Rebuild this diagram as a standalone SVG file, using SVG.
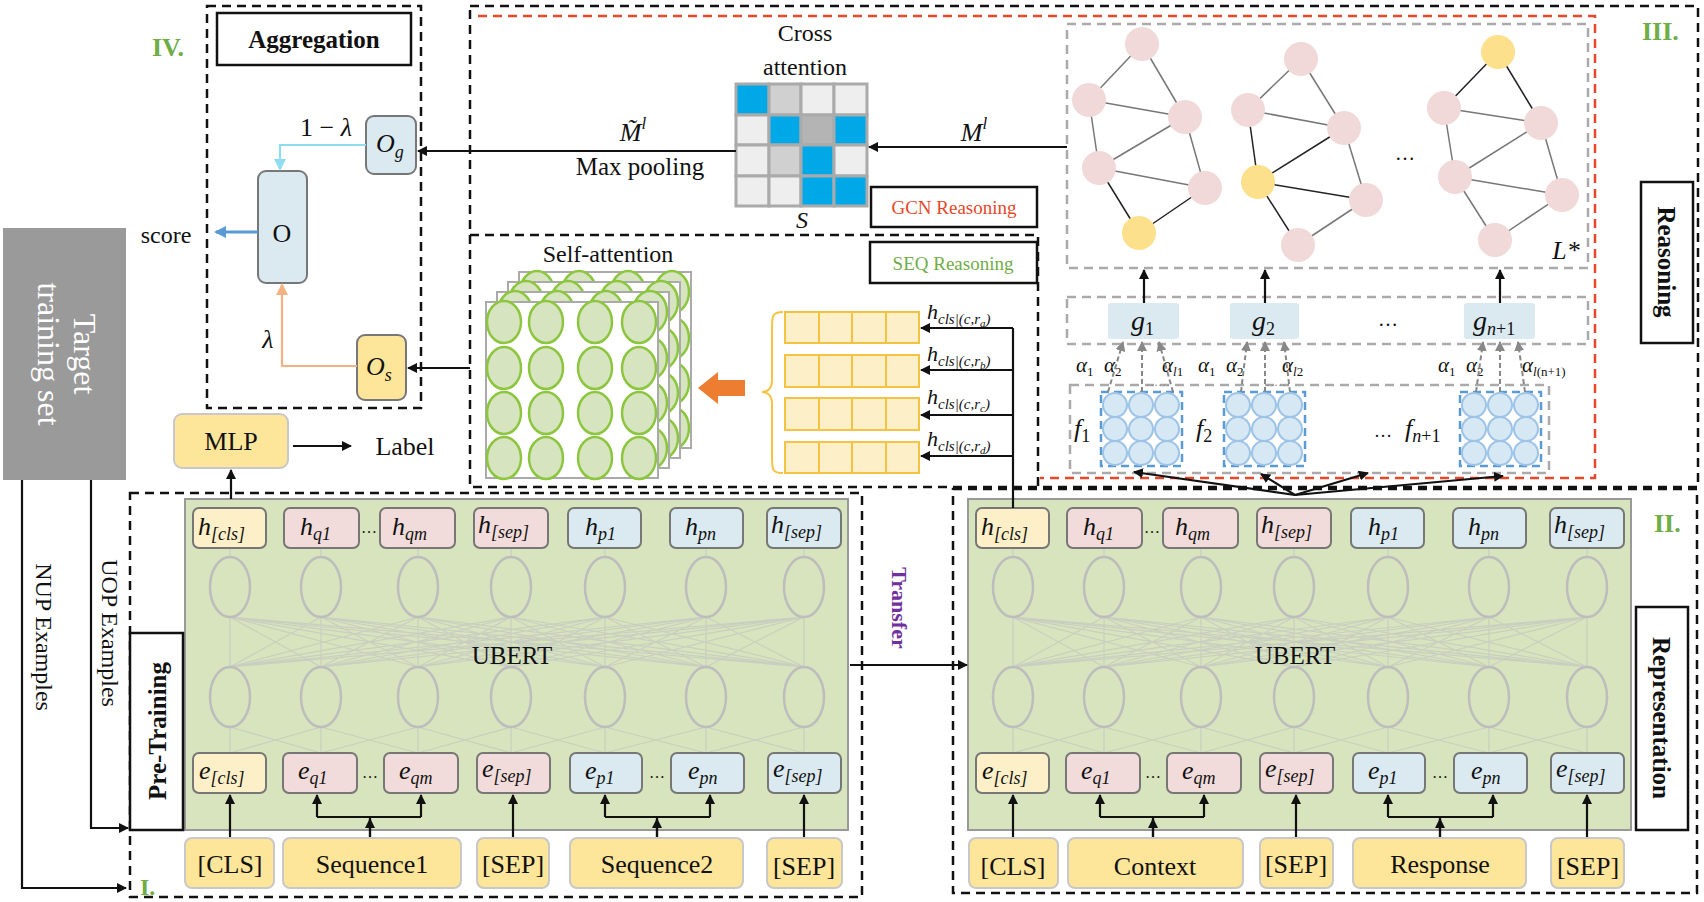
<svg xmlns="http://www.w3.org/2000/svg" xmlns:xlink="http://www.w3.org/1999/xlink" width="1704" height="902" viewBox="0 0 1704 902">
<style>
text{font-family:"Liberation Serif",serif;fill:#111}
.it{font-style:italic}
.dash{fill:none;stroke:#111;stroke-width:2.5;stroke-dasharray:9 6}
.gdash{fill:none;stroke:#aaa;stroke-width:2.5;stroke-dasharray:9 6}
.rdash{fill:none;stroke:#e8472a;stroke-width:2.5;stroke-dasharray:9 6}
.bdash{fill:none;stroke:#5b9bd5;stroke-width:2.5;stroke-dasharray:8 5}
.tok{stroke:#777;stroke-width:2}
.y1{fill:#fdf0c8}.p{fill:#f2dcdb}.b{fill:#dbeaf1}
.inp{fill:#fde59a;stroke:#c8c8c8;stroke-width:2}
.neu{fill:none;stroke:#bdbdbd;stroke-width:2.5}
.wire{stroke:#c9cfc0;stroke-width:1.2;fill:none}
.arr{stroke:#111;stroke-width:2.2;fill:none;marker-end:url(#ah)}
.node{fill:#f2d9d9}
.ynode{fill:#fde08c}
.edge{stroke:#777;stroke-width:1.5}
.sc{fill:#d6e4bf;stroke:#8cc63f;stroke-width:2.5}
.fc{fill:#d6e8f4;stroke:#9dc3e6;stroke-width:2}
.lbl{font-size:26px}
.sub{font-size:18px}
</style>
<defs>
<marker id="ah" markerWidth="10" markerHeight="10" refX="9" refY="5" orient="auto" markerUnits="userSpaceOnUse" viewBox="0 0 10 10"><path d="M0,0 L10,5 L0,10 z" fill="#111"/></marker>
<marker id="ahg" markerWidth="10" markerHeight="10" refX="9" refY="5" orient="auto" markerUnits="userSpaceOnUse" viewBox="0 0 10 10"><path d="M0,0 L10,5 L0,10 z" fill="#888"/></marker>
<marker id="ahb" markerWidth="12" markerHeight="12" refX="10" refY="6" orient="auto" markerUnits="userSpaceOnUse" viewBox="0 0 12 12"><path d="M0,0 L12,6 L0,12 z" fill="#5b9bd5"/></marker>
<marker id="ahc" markerWidth="12" markerHeight="12" refX="10" refY="6" orient="auto" markerUnits="userSpaceOnUse" viewBox="0 0 12 12"><path d="M0,0 L12,6 L0,12 z" fill="#8fdcf0"/></marker>
<marker id="aho" markerWidth="12" markerHeight="12" refX="10" refY="6" orient="auto" markerUnits="userSpaceOnUse" viewBox="0 0 12 12"><path d="M0,0 L12,6 L0,12 z" fill="#f4b183"/></marker>
<g id="ubert">
<rect x="185" y="499" width="663" height="331" fill="#d7e4bd" stroke="#999" stroke-width="2"/>
<path class="wire" d="M230 617L230 667M230 617L321 667M230 617L418 667M230 617L511 667M230 617L605 667M230 617L706 667M230 617L804 667M321 617L230 667M321 617L321 667M321 617L418 667M321 617L511 667M321 617L605 667M321 617L706 667M321 617L804 667M418 617L230 667M418 617L321 667M418 617L418 667M418 617L511 667M418 617L605 667M418 617L706 667M418 617L804 667M511 617L230 667M511 617L321 667M511 617L418 667M511 617L511 667M511 617L605 667M511 617L706 667M511 617L804 667M605 617L230 667M605 617L321 667M605 617L418 667M605 617L511 667M605 617L605 667M605 617L706 667M605 617L804 667M706 617L230 667M706 617L321 667M706 617L418 667M706 617L511 667M706 617L605 667M706 617L706 667M706 617L804 667M804 617L230 667M804 617L321 667M804 617L418 667M804 617L511 667M804 617L605 667M804 617L706 667M804 617L804 667M230 548V557M321 548V557M418 548V557M511 548V557M605 548V557M706 548V557M804 548V557M230 727V753M321 727V753M418 727V753M511 727V753M605 727V753M706 727V753M804 727V753M230 727L321 753M321 727L230 753M321 727L418 753M418 727L321 753M418 727L511 753M511 727L418 753M511 727L605 753M605 727L511 753M605 727L706 753M706 727L605 753M706 727L804 753M804 727L706 753"/>
<g class="neu">
<ellipse cx="230" cy="587" rx="20" ry="30"/><ellipse cx="321" cy="587" rx="20" ry="30"/><ellipse cx="418" cy="587" rx="20" ry="30"/><ellipse cx="511" cy="587" rx="20" ry="30"/><ellipse cx="605" cy="587" rx="20" ry="30"/><ellipse cx="706" cy="587" rx="20" ry="30"/><ellipse cx="804" cy="587" rx="20" ry="30"/>
<ellipse cx="230" cy="697" rx="20" ry="30"/><ellipse cx="321" cy="697" rx="20" ry="30"/><ellipse cx="418" cy="697" rx="20" ry="30"/><ellipse cx="511" cy="697" rx="20" ry="30"/><ellipse cx="605" cy="697" rx="20" ry="30"/><ellipse cx="706" cy="697" rx="20" ry="30"/><ellipse cx="804" cy="697" rx="20" ry="30"/>
</g>
<text x="512" y="664" font-size="25" text-anchor="middle">UBERT</text>
<rect class="tok y1" x="193" y="508" width="73" height="40" rx="6"/>
<rect class="tok p" x="284" y="508" width="75" height="40" rx="6"/>
<rect class="tok p" x="380" y="508" width="75" height="40" rx="6"/>
<rect class="tok p" x="474" y="508" width="74" height="40" rx="6"/>
<rect class="tok b" x="568" y="508" width="73" height="40" rx="6"/>
<rect class="tok b" x="670" y="508" width="73" height="40" rx="6"/>
<rect class="tok b" x="767" y="508" width="74" height="40" rx="6"/>
<g class="lbl it">
<text x="198" y="535">h<tspan class="sub" dy="5">[cls]</tspan></text>
<text x="300" y="535">h<tspan class="sub" dy="5">q1</tspan></text>
<text x="392" y="535">h<tspan class="sub" dy="5">qm</tspan></text>
<text x="478" y="533">h<tspan class="sub" dy="5">[sep]</tspan></text>
<text x="585" y="535">h<tspan class="sub" dy="5">p1</tspan></text>
<text x="685" y="535">h<tspan class="sub" dy="5">pn</tspan></text>
<text x="771" y="533">h<tspan class="sub" dy="5">[sep]</tspan></text>
</g>
<text x="369" y="533" font-size="16" text-anchor="middle">…</text>
<rect class="tok y1" x="193" y="753" width="73" height="40" rx="6"/>
<rect class="tok p" x="283" y="753" width="74" height="40" rx="6"/>
<rect class="tok p" x="384" y="753" width="74" height="40" rx="6"/>
<rect class="tok p" x="477" y="753" width="73" height="40" rx="6"/>
<rect class="tok b" x="570" y="753" width="72" height="40" rx="6"/>
<rect class="tok b" x="671" y="753" width="73" height="40" rx="6"/>
<rect class="tok b" x="768" y="753" width="73" height="40" rx="6"/>
<g class="lbl it">
<text x="199" y="779">e<tspan class="sub" dy="5">[cls]</tspan></text>
<text x="298" y="779">e<tspan class="sub" dy="5">q1</tspan></text>
<text x="399" y="779">e<tspan class="sub" dy="5">qm</tspan></text>
<text x="482" y="777">e<tspan class="sub" dy="5">[sep]</tspan></text>
<text x="585" y="779">e<tspan class="sub" dy="5">p1</tspan></text>
<text x="688" y="779">e<tspan class="sub" dy="5">pn</tspan></text>
<text x="773" y="777">e<tspan class="sub" dy="5">[sep]</tspan></text>
</g>
<text x="370" y="778" font-size="16" text-anchor="middle">…</text>
<text x="657" y="778" font-size="16" text-anchor="middle">…</text>
<path class="arr" d="M230 838V795"/>
<path class="arr" d="M513 838V795"/>
<path class="arr" d="M804 838V795"/>
<path stroke="#111" stroke-width="2.2" fill="none" d="M370 838V817M317 817H421M657 838V817M605 817H710"/>
<path class="arr" d="M370 840V819"/>
<path class="arr" d="M657 840V819"/>
<path class="arr" d="M317 817V795"/><path class="arr" d="M421 817V795"/>
<path class="arr" d="M605 817V795"/><path class="arr" d="M710 817V795"/>
</g>
<g id="sgrid">
<rect x="486" y="302" width="172" height="176" fill="#fff" stroke="#aaa" stroke-width="2"/>
<g class="sc">
<ellipse cx="504" cy="322" rx="17" ry="21"/><ellipse cx="546" cy="322" rx="17" ry="21"/><ellipse cx="595" cy="322" rx="17" ry="21"/><ellipse cx="639" cy="322" rx="17" ry="21"/>
<ellipse cx="504" cy="368" rx="17" ry="21"/><ellipse cx="546" cy="368" rx="17" ry="21"/><ellipse cx="595" cy="368" rx="17" ry="21"/><ellipse cx="639" cy="368" rx="17" ry="21"/>
<ellipse cx="504" cy="413" rx="17" ry="21"/><ellipse cx="546" cy="413" rx="17" ry="21"/><ellipse cx="595" cy="413" rx="17" ry="21"/><ellipse cx="639" cy="413" rx="17" ry="21"/>
<ellipse cx="504" cy="458" rx="17" ry="21"/><ellipse cx="546" cy="458" rx="17" ry="21"/><ellipse cx="595" cy="458" rx="17" ry="21"/><ellipse cx="639" cy="458" rx="17" ry="21"/>
</g>
</g>
<g id="fgrid">
<rect class="bdash" x="1101" y="392" width="81" height="74" fill="none"/>
<g class="fc">
<circle cx="1115" cy="405" r="12"/><circle cx="1141" cy="405" r="12"/><circle cx="1167" cy="405" r="12"/>
<circle cx="1115" cy="429" r="12"/><circle cx="1141" cy="429" r="12"/><circle cx="1167" cy="429" r="12"/>
<circle cx="1115" cy="453" r="12"/><circle cx="1141" cy="453" r="12"/><circle cx="1167" cy="453" r="12"/>
</g>
</g>
</defs>
<rect width="1704" height="902" fill="#fff"/>

<g id="frames">
<rect class="dash" x="207" y="6" width="214" height="402"/>
<path class="dash" d="M470 6H1698V487H470V6M470 235H1038V487"/>
<path class="rdash" d="M478 16H1595V478H1040"/>
<rect class="dash" x="130" y="493" width="732" height="404"/>
<rect class="dash" x="953" y="489" width="744" height="404"/>
<rect class="gdash" x="1067" y="24" width="521" height="244"/>
<rect class="gdash" x="1067" y="297" width="521" height="47"/>
<rect class="gdash" x="1070" y="385" width="479" height="88"/>
</g>

<g id="labels">
<text x="152" y="56" font-size="26" font-weight="bold" style="fill:#70ad47">IV.</text>
<text x="1642" y="40" font-size="26" font-weight="bold" style="fill:#70ad47">III.</text>
<text x="1654" y="532" font-size="26" font-weight="bold" style="fill:#70ad47">II.</text>
<text x="140" y="895" font-size="24" font-weight="bold" style="fill:#70ad47">I.</text>
</g>

<g id="target">
<rect x="3" y="228" width="123" height="252" fill="#9a9a9a"/>
<text transform="translate(74,354) rotate(90)" font-size="32" text-anchor="middle" style="fill:#fff">Target</text>
<text transform="translate(38,354) rotate(90)" font-size="32" text-anchor="middle" style="fill:#fff">training set</text>
</g>
<text transform="translate(36,637) rotate(90)" font-size="24" text-anchor="middle">NUP Examples</text>
<text transform="translate(102,633) rotate(90)" font-size="24" text-anchor="middle">UOP Examples</text>

<g id="aggregation">
<rect x="217" y="13" width="194" height="52" fill="#fff" stroke="#111" stroke-width="2.5"/>
<text x="314" y="48" font-size="25" font-weight="bold" text-anchor="middle">Aggregation</text>
</g>
<g id="Og"><rect class="tok b" x="366" y="116" width="50" height="58" rx="8"/><text x="376" y="152" font-size="26" class="it">O<tspan font-size="18" dy="6">g</tspan></text></g>
<g id="O"><rect class="tok b" x="258" y="171" width="49" height="112" rx="8"/><text x="282" y="242" font-size="26" text-anchor="middle">O</text></g>
<g id="Os"><rect class="tok" x="357" y="335" width="49" height="65" rx="8" fill="#fde59a"/><text x="366" y="375" font-size="26" class="it">O<tspan font-size="18" dy="6">s</tspan></text></g>
<g id="MLP"><rect class="inp" x="174" y="414" width="114" height="54" rx="8" stroke="#aaa"/><text x="231" y="450" font-size="26" text-anchor="middle">MLP</text></g>
<text x="326" y="136" font-size="26" text-anchor="middle">1 − <tspan class="it">λ</tspan></text>
<text x="268" y="348" font-size="26" class="it" text-anchor="middle">λ</text>
<text x="166" y="243" font-size="24" text-anchor="middle">score</text>
<text x="405" y="455" font-size="26" text-anchor="middle">Label</text>

<g id="cross">
<text x="805" y="41" font-size="24" text-anchor="middle">Cross</text>
<text x="805" y="75" font-size="24" text-anchor="middle">attention</text>
<rect x="736" y="84" width="131" height="122" fill="#aaa"/>
<g stroke="#aaa" stroke-width="3">
<rect x="736" y="84" width="33" height="31" fill="#00a8e8"/><rect x="769" y="84" width="32" height="31" fill="#d0d0d0"/><rect x="801" y="84" width="33" height="31" fill="#eeeeee"/><rect x="834" y="84" width="33" height="31" fill="#eeeeee"/>
<rect x="736" y="115" width="33" height="30" fill="#eeeeee"/><rect x="769" y="115" width="32" height="30" fill="#00a8e8"/><rect x="801" y="115" width="33" height="30" fill="#b4b4b4"/><rect x="834" y="115" width="33" height="30" fill="#00a8e8"/>
<rect x="736" y="145" width="33" height="31" fill="#eeeeee"/><rect x="769" y="145" width="32" height="31" fill="#d0d0d0"/><rect x="801" y="145" width="33" height="31" fill="#00a8e8"/><rect x="834" y="145" width="33" height="31" fill="#eeeeee"/>
<rect x="736" y="176" width="33" height="30" fill="#eeeeee"/><rect x="769" y="176" width="32" height="30" fill="#eeeeee"/><rect x="801" y="176" width="33" height="30" fill="#00a8e8"/><rect x="834" y="176" width="33" height="30" fill="#00a8e8"/>
</g>
<text x="802" y="228" font-size="24" class="it" text-anchor="middle">S</text>
</g>
<text x="633" y="141" font-size="26" class="it" text-anchor="middle">M̃<tspan font-size="17" dy="-12">l</tspan></text>
<text x="640" y="175" font-size="25" text-anchor="middle">Max pooling</text>
<text x="974" y="141" font-size="26" class="it" text-anchor="middle">M<tspan font-size="17" dy="-12">l</tspan></text>

<g id="gcnlabel"><rect x="871" y="187" width="166" height="40" fill="#fff" stroke="#111" stroke-width="2.5"/><text x="954" y="214" font-size="19" text-anchor="middle" style="fill:#e8472a">GCN Reasoning</text></g>
<g id="seqlabel"><rect x="870" y="242" width="167" height="41" fill="#fff" stroke="#111" stroke-width="2.5"/><text x="953" y="270" font-size="19" text-anchor="middle" style="fill:#70ad47">SEQ Reasoning</text></g>

<g id="selfatt">
<text x="608" y="262" font-size="24" text-anchor="middle">Self-attention</text>
<use xlink:href="#sgrid" transform="translate(33,-30)"/>
<use xlink:href="#sgrid" transform="translate(22,-20)"/>
<use xlink:href="#sgrid" transform="translate(11,-10)"/>
<use xlink:href="#sgrid"/>
<path d="M745 380H718V372L698 388L718 404V396H745Z" fill="#ed7d31"/>
</g>
<g id="seqrows" stroke="#f5c242" stroke-width="2" fill="#fdf0c8">
<rect x="785" y="312" width="134" height="31"/><rect x="785" y="355" width="134" height="32"/><rect x="785" y="398" width="134" height="32"/><rect x="785" y="442" width="134" height="31"/>
<path d="M819 312V343M852 312V343M886 312V343M819 355V387M852 355V387M886 355V387M819 398V430M852 398V430M886 398V430M819 442V473M852 442V473M886 442V473" fill="none"/>
<path d="M783 312C772 312 772 316 772 330V380C772 388 768 392 762 392C768 392 772 396 772 404V455C772 470 772 473 783 473" fill="none" stroke="#f5c242"/>
</g>
<g font-size="22" class="it">
<text x="927" y="319">h<tspan font-size="15" dy="5">cls|(c,r</tspan><tspan font-size="11" dy="3">a</tspan><tspan font-size="15" dy="-3">)</tspan></text>
<text x="927" y="361">h<tspan font-size="15" dy="5">cls|(c,r</tspan><tspan font-size="11" dy="3">b</tspan><tspan font-size="15" dy="-3">)</tspan></text>
<text x="927" y="404">h<tspan font-size="15" dy="5">cls|(c,r</tspan><tspan font-size="11" dy="3">c</tspan><tspan font-size="15" dy="-3">)</tspan></text>
<text x="927" y="446">h<tspan font-size="15" dy="5">cls|(c,r</tspan><tspan font-size="11" dy="3">d</tspan><tspan font-size="15" dy="-3">)</tspan></text>
</g>

<g id="graph1">
<g class="edge"><line x1="1142" y1="44" x2="1089" y2="100"/><line x1="1142" y1="44" x2="1185" y2="117"/><line x1="1089" y1="100" x2="1185" y2="117"/><line x1="1089" y1="100" x2="1099" y2="168"/><line x1="1185" y1="117" x2="1099" y2="168"/><line x1="1185" y1="117" x2="1205" y2="188"/><line x1="1099" y1="168" x2="1205" y2="188"/><line x1="1099" y1="168" x2="1139" y2="233" stroke="#222"/><line x1="1139" y1="233" x2="1205" y2="188" stroke="#222"/></g>
<ellipse class="node" cx="1142" cy="44" rx="17" ry="17"/><ellipse class="node" cx="1089" cy="100" rx="17" ry="17"/><ellipse class="node" cx="1185" cy="117" rx="17" ry="17"/><ellipse class="node" cx="1099" cy="168" rx="17" ry="17"/><ellipse class="node" cx="1205" cy="188" rx="17" ry="17"/><ellipse class="ynode" cx="1139" cy="233" rx="17" ry="17"/>
</g>
<g id="graph2">
<g class="edge"><line x1="1301" y1="59" x2="1248" y2="110"/><line x1="1301" y1="59" x2="1344" y2="128"/><line x1="1248" y1="110" x2="1344" y2="128"/><line x1="1248" y1="110" x2="1258" y2="182" stroke="#222"/><line x1="1344" y1="128" x2="1258" y2="182" stroke="#222"/><line x1="1258" y1="182" x2="1366" y2="200" stroke="#222"/><line x1="1344" y1="128" x2="1366" y2="200"/><line x1="1258" y1="182" x2="1298" y2="245" stroke="#222"/><line x1="1298" y1="245" x2="1366" y2="200"/></g>
<ellipse class="node" cx="1301" cy="59" rx="17" ry="17"/><ellipse class="node" cx="1248" cy="110" rx="17" ry="17"/><ellipse class="node" cx="1344" cy="128" rx="17" ry="17"/><ellipse class="ynode" cx="1258" cy="182" rx="17" ry="17"/><ellipse class="node" cx="1366" cy="200" rx="17" ry="17"/><ellipse class="node" cx="1298" cy="245" rx="17" ry="17"/>
</g>
<text x="1405" y="160" font-size="20" text-anchor="middle">…</text>
<g id="graph3">
<g class="edge"><line x1="1498" y1="52" x2="1444" y2="108" stroke="#222"/><line x1="1498" y1="52" x2="1541" y2="123" stroke="#222"/><line x1="1444" y1="108" x2="1541" y2="123"/><line x1="1444" y1="108" x2="1455" y2="177"/><line x1="1541" y1="123" x2="1455" y2="177"/><line x1="1541" y1="123" x2="1562" y2="195"/><line x1="1455" y1="177" x2="1562" y2="195"/><line x1="1455" y1="177" x2="1495" y2="240"/><line x1="1495" y1="240" x2="1562" y2="195"/></g>
<ellipse class="ynode" cx="1498" cy="52" rx="17" ry="17"/><ellipse class="node" cx="1444" cy="108" rx="17" ry="17"/><ellipse class="node" cx="1541" cy="123" rx="17" ry="17"/><ellipse class="node" cx="1455" cy="177" rx="17" ry="17"/><ellipse class="node" cx="1562" cy="195" rx="17" ry="17"/><ellipse class="node" cx="1495" cy="240" rx="17" ry="17"/>
</g>
<text x="1566" y="259" font-size="26" class="it" text-anchor="middle">L*</text>

<g id="g1"><rect x="1108" y="303" width="71" height="36" rx="3" fill="#dbeaf1"/><text x="1131" y="330" font-size="28" class="it">g<tspan font-size="18" dy="5" style="font-style:normal">1</tspan></text></g>
<g id="g2"><rect x="1230" y="303" width="69" height="36" rx="3" fill="#dbeaf1"/><text x="1252" y="330" font-size="28" class="it">g<tspan font-size="18" dy="5" style="font-style:normal">2</tspan></text></g>
<g id="gn"><rect x="1464" y="303" width="71" height="36" rx="3" fill="#dbeaf1"/><text x="1473" y="330" font-size="28" class="it">g<tspan font-size="18" dy="5">n</tspan><tspan font-size="18" style="font-style:normal">+1</tspan></text></g>
<text x="1388" y="326" font-size="20" text-anchor="middle">…</text>

<g id="f1"><use xlink:href="#fgrid"/><text x="1074" y="437" font-size="26" class="it">f<tspan font-size="18" dy="5" style="font-style:normal">1</tspan></text></g>
<g id="f2"><use xlink:href="#fgrid" transform="translate(123,0)"/><text x="1196" y="437" font-size="26" class="it">f<tspan font-size="18" dy="5" style="font-style:normal">2</tspan></text></g>
<g id="fn"><use xlink:href="#fgrid" transform="translate(359,0)"/><text x="1405" y="437" font-size="26" class="it">f<tspan font-size="18" dy="5">n</tspan><tspan font-size="18" style="font-style:normal">+1</tspan></text></g>
<text x="1383" y="437" font-size="18" text-anchor="middle">…</text>

<g font-size="21" class="it">
<text x="1076" y="372">α<tspan font-size="13" dy="4" style="font-style:normal">1</tspan></text>
<text x="1104" y="372">α<tspan font-size="13" dy="4" style="font-style:normal">2</tspan></text>
<text x="1162" y="372">α<tspan font-size="13" dy="4">l</tspan><tspan font-size="13" style="font-style:normal">1</tspan></text>
<text x="1198" y="372">α<tspan font-size="13" dy="4" style="font-style:normal">1</tspan></text>
<text x="1226" y="372">α<tspan font-size="13" dy="4" style="font-style:normal">2</tspan></text>
<text x="1282" y="372">α<tspan font-size="13" dy="4">l</tspan><tspan font-size="13" style="font-style:normal">2</tspan></text>
<text x="1438" y="372">α<tspan font-size="13" dy="4" style="font-style:normal">1</tspan></text>
<text x="1466" y="372">α<tspan font-size="13" dy="4" style="font-style:normal">2</tspan></text>
<text x="1522" y="372">α<tspan font-size="13" dy="4">l</tspan><tspan font-size="13" style="font-style:normal">(n+1)</tspan></text>
</g>
<text x="1146" y="386" font-size="12" style="fill:#888">……</text>
<text x="1266" y="386" font-size="12" style="fill:#888">……</text>

<use xlink:href="#ubert"/>
<use xlink:href="#ubert" x="783"/>
<g id="pretrain"><rect x="130" y="633" width="53" height="197" fill="#fff" stroke="#111" stroke-width="2.5"/><text transform="translate(166,731) rotate(-90)" font-size="25" font-weight="bold" text-anchor="middle">Pre-Training</text></g>
<g id="repr"><rect x="1636" y="607" width="52" height="223" fill="#fff" stroke="#111" stroke-width="2.5"/><text transform="translate(1653,718) rotate(90)" font-size="25" font-weight="bold" text-anchor="middle">Representation</text></g>
<g id="reason"><rect x="1641" y="182" width="52" height="161" fill="#fff" stroke="#111" stroke-width="2.5"/><text transform="translate(1658,262) rotate(90)" font-size="25" font-weight="bold" text-anchor="middle">Reasoning</text></g>
<text transform="translate(892,608) rotate(90)" font-size="22" font-weight="bold" text-anchor="middle" style="fill:#7030a0">Transfer</text>

<g id="inputsL">
<rect class="inp" x="185" y="838" width="89" height="50" rx="7"/><text x="230" y="873" font-size="26" text-anchor="middle">[CLS]</text>
<rect class="inp" x="283" y="838" width="178" height="50" rx="7"/><text x="372" y="873" font-size="26" text-anchor="middle">Sequence1</text>
<rect class="inp" x="477" y="838" width="72" height="50" rx="7"/><text x="513" y="873" font-size="26" text-anchor="middle">[SEP]</text>
<rect class="inp" x="570" y="838" width="173" height="50" rx="7"/><text x="657" y="873" font-size="26" text-anchor="middle">Sequence2</text>
<rect class="inp" x="767" y="838" width="75" height="50" rx="7"/><text x="804" y="875" font-size="26" text-anchor="middle">[SEP]</text>
</g>
<g id="inputsR">
<rect class="inp" x="969" y="838" width="89" height="50" rx="7"/><text x="1013" y="875" font-size="26" text-anchor="middle">[CLS]</text>
<rect class="inp" x="1068" y="838" width="175" height="50" rx="7"/><text x="1155" y="875" font-size="26" text-anchor="middle">Context</text>
<rect class="inp" x="1260" y="838" width="73" height="50" rx="7"/><text x="1296" y="873" font-size="26" text-anchor="middle">[SEP]</text>
<rect class="inp" x="1353" y="838" width="173" height="50" rx="7"/><text x="1440" y="873" font-size="26" text-anchor="middle">Response</text>
<rect class="inp" x="1551" y="838" width="73" height="50" rx="7"/><text x="1588" y="875" font-size="26" text-anchor="middle">[SEP]</text>
</g>

<g id="connectors">
<path class="arr" d="M736 151H418"/>
<path class="arr" d="M1067 147H869"/>
<path class="arr" d="M470 368H408"/>
<path d="M366 145H280V169" fill="none" stroke="#8fdcf0" stroke-width="2.2" marker-end="url(#ahc)"/>
<path d="M357 366H282V285" fill="none" stroke="#f4b183" stroke-width="2.2" marker-end="url(#aho)"/>
<path d="M258 232H216" fill="none" stroke="#5b9bd5" stroke-width="3" marker-end="url(#ahb)"/>
<path class="arr" d="M293 446H351"/>
<path class="arr" d="M231 499V470"/>
<path d="M22 480V888H126" fill="none" stroke="#111" stroke-width="2.2" marker-end="url(#ah)"/>
<path d="M91 480V828H128" fill="none" stroke="#111" stroke-width="2.2" marker-end="url(#ah)"/>
<path class="arr" d="M850 665H967"/>
<path stroke="#111" stroke-width="2.2" fill="none" d="M1013 508V328"/>
<path class="arr" d="M1013 328H921"/><path class="arr" d="M1013 370H921"/><path class="arr" d="M1013 415H921"/><path class="arr" d="M1013 456H921"/>
<path class="arr" d="M1144 303V270"/><path class="arr" d="M1265 303V270"/><path class="arr" d="M1500 303V270"/>
<path class="arr" d="M1295 495L1134 472"/><path class="arr" d="M1295 495L1261 474"/><path class="arr" d="M1295 495L1368 473"/><path class="arr" d="M1295 495L1503 476"/>
<g stroke="#888" stroke-width="2" stroke-dasharray="5 3" fill="none">
<path d="M1108 392L1123 342" marker-end="url(#ahg)"/><path d="M1142 392V342" marker-end="url(#ahg)"/><path d="M1173 392L1159 342" marker-end="url(#ahg)"/>
<path d="M1241 392L1247 342" marker-end="url(#ahg)"/><path d="M1265 392V342" marker-end="url(#ahg)"/><path d="M1290 392L1284 342" marker-end="url(#ahg)"/>
<path d="M1476 392L1483 342" marker-end="url(#ahg)"/><path d="M1500 392V342" marker-end="url(#ahg)"/><path d="M1525 392L1518 342" marker-end="url(#ahg)"/>
</g>
</g>
</svg>
